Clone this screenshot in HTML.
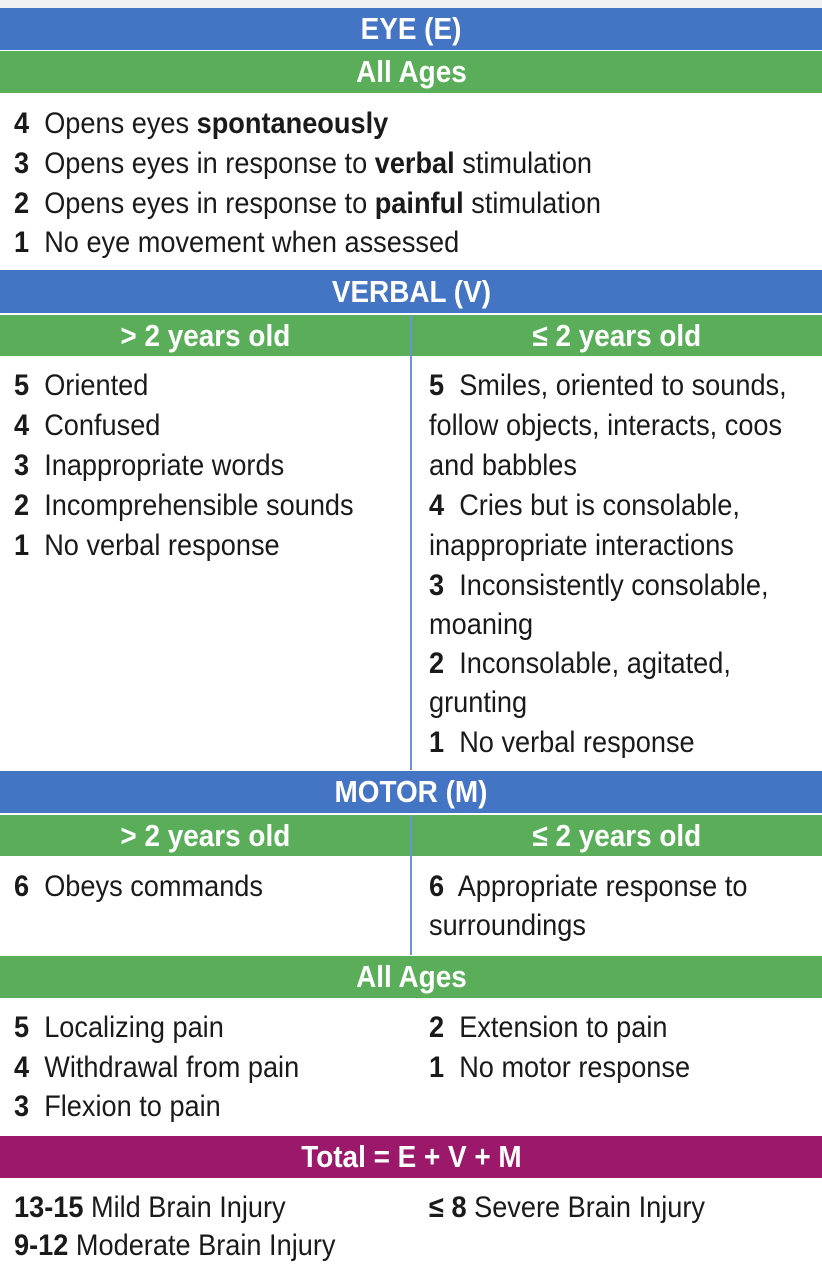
<!DOCTYPE html>
<html><head><meta charset="utf-8"><style>
*{margin:0;padding:0;box-sizing:border-box}
body{width:822px;height:1262px;position:relative;background:#fff;overflow:hidden;font-family:"Liberation Sans",sans-serif;color:#1a1a1a}
.bar{position:absolute;left:0;width:822px;color:#fff;font-weight:bold;font-size:31px;text-align:center;display:flex;align-items:center;justify-content:center}
.bar span,.c span{display:inline-block;transform:scaleX(0.9)}
.b{background:#4474c4}.g{background:#5aae59}.p{background:#9b186b}
.t{position:absolute;font-size:30px;line-height:40px;height:40px;white-space:nowrap;transform:scaleX(0.905);transform-origin:0 50%}
.c{position:absolute;font-size:31px;line-height:40px;height:40px;white-space:nowrap;text-align:center;color:#fff;font-weight:bold}
.t b{font-weight:bold}
.vl{position:absolute;left:410px;width:2px;background:#6f93d0}
</style></head><body>
<div style="position:absolute;left:0;top:0;width:822px;height:8px;background:#eef0f3"></div>
<div class="bar b" style="top:8px;height:42px"><span>EYE (E)</span></div>
<div class="bar g" style="top:51px;height:42px"><span>All Ages</span></div>
<div class="t" style="left:14px;top:104px"><b>4</b>&nbsp; Opens eyes <b>spontaneously</b></div>
<div class="t" style="left:14px;top:144px"><b>3</b>&nbsp; Opens eyes in response to <b>verbal</b> stimulation</div>
<div class="t" style="left:14px;top:184px"><b>2</b>&nbsp; Opens eyes in response to <b>painful</b> stimulation</div>
<div class="t" style="left:14px;top:223px"><b>1</b>&nbsp; No eye movement when assessed</div>

<div class="bar b" style="top:270px;height:43px"><span>VERBAL (V)</span></div>
<div class="bar g" style="top:315px;height:41px"></div>
<div class="c" style="left:0;width:411px;top:316px"><span>&gt; 2 years old</span></div>
<div class="c" style="left:411px;width:411px;top:316px"><span>≤ 2 years old</span></div>
<div class="vl" style="top:315px;height:455px"></div>
<div class="t" style="left:14px;top:366px"><b>5</b>&nbsp; Oriented</div>
<div class="t" style="left:14px;top:406px"><b>4</b>&nbsp; Confused</div>
<div class="t" style="left:14px;top:446px"><b>3</b>&nbsp; Inappropriate words</div>
<div class="t" style="left:14px;top:486px"><b>2</b>&nbsp; Incomprehensible sounds</div>
<div class="t" style="left:14px;top:526px"><b>1</b>&nbsp; No verbal response</div>
<div class="t" style="left:429px;top:366px"><b>5</b>&nbsp; Smiles, oriented to sounds,</div>
<div class="t" style="left:429px;top:406px">follow objects, interacts, coos</div>
<div class="t" style="left:429px;top:446px">and babbles</div>
<div class="t" style="left:429px;top:486px"><b>4</b>&nbsp; Cries but is consolable,</div>
<div class="t" style="left:429px;top:526px">inappropriate interactions</div>
<div class="t" style="left:429px;top:566px"><b>3</b>&nbsp; Inconsistently consolable,</div>
<div class="t" style="left:429px;top:605px">moaning</div>
<div class="t" style="left:429px;top:644px"><b>2</b>&nbsp; Inconsolable, agitated,</div>
<div class="t" style="left:429px;top:683px">grunting</div>
<div class="t" style="left:429px;top:723px"><b>1</b>&nbsp; No verbal response</div>

<div class="bar b" style="top:771px;height:42px"><span>MOTOR (M)</span></div>
<div class="bar g" style="top:815px;height:41px"></div>
<div class="c" style="left:0;width:411px;top:816px"><span>&gt; 2 years old</span></div>
<div class="c" style="left:411px;width:411px;top:816px"><span>≤ 2 years old</span></div>
<div class="vl" style="top:815px;height:140px"></div>
<div class="t" style="left:14px;top:867px"><b>6</b>&nbsp; Obeys commands</div>
<div class="t" style="left:429px;top:867px"><b>6</b>&nbsp; Appropriate response to</div>
<div class="t" style="left:429px;top:906px">surroundings</div>

<div class="bar g" style="top:956px;height:42px"><span>All Ages</span></div>
<div class="t" style="left:14px;top:1008px"><b>5</b>&nbsp; Localizing pain</div>
<div class="t" style="left:14px;top:1048px"><b>4</b>&nbsp; Withdrawal from pain</div>
<div class="t" style="left:14px;top:1087px"><b>3</b>&nbsp; Flexion to pain</div>
<div class="t" style="left:429px;top:1008px"><b>2</b>&nbsp; Extension to pain</div>
<div class="t" style="left:429px;top:1048px"><b>1</b>&nbsp; No motor response</div>

<div class="bar p" style="top:1136px;height:42px"><span>Total = E + V + M</span></div>
<div class="t" style="left:14px;top:1188px"><b>13-15</b> Mild Brain Injury</div>
<div class="t" style="left:14px;top:1226px"><b>9-12</b> Moderate Brain Injury</div>
<div class="t" style="left:429px;top:1188px"><b>≤ 8</b> Severe Brain Injury</div>
</body></html>
